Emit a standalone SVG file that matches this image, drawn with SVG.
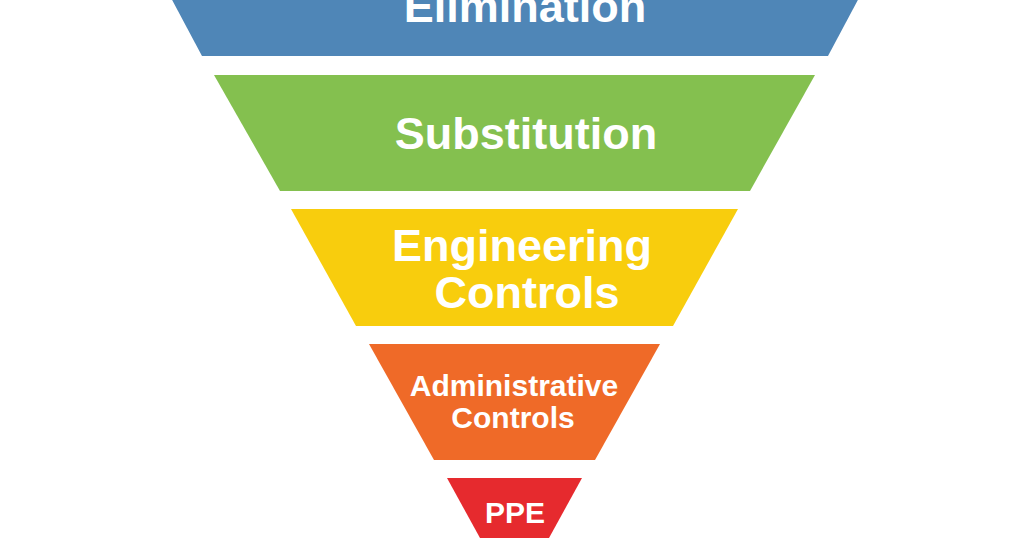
<svg xmlns="http://www.w3.org/2000/svg" width="1024" height="538" viewBox="0 0 1024 538">
<style>
text{font-family:"Liberation Sans",Arial,sans-serif;font-weight:bold;fill:#fff;text-anchor:middle}
.l{font-size:45px}.m{font-size:30px}.s{font-size:30px}
</style>
<rect width="1024" height="538" fill="#fff"/>
<g id="elimination"><polygon points="170,-4 860,-4 828,56 202,56" fill="#4f86b7"/><text class="l" x="525" y="22">Elimination</text></g>
<g id="substitution"><polygon points="214,75 815,75 750,191 280,191" fill="#84c04f"/><text class="l" x="526" y="149">Substitution</text></g>
<g id="engineering"><polygon points="291,209 738,209 673,326 356,326" fill="#f8cd0d"/><text class="l" x="522" y="261">Engineering</text><text class="l" x="527" y="308">Controls</text></g>
<g id="administrative"><polygon points="369,344 660,344 595,460 434,460" fill="#ef6a28"/><text class="m" x="514" y="396">Administrative</text><text class="m" x="513" y="428">Controls</text></g>
<g id="ppe"><polygon points="447,478 582,478 549,538 480,538" fill="#e62a2e"/><text class="s" x="515" y="523">PPE</text></g>
<g id="connectors"/>
</svg>
